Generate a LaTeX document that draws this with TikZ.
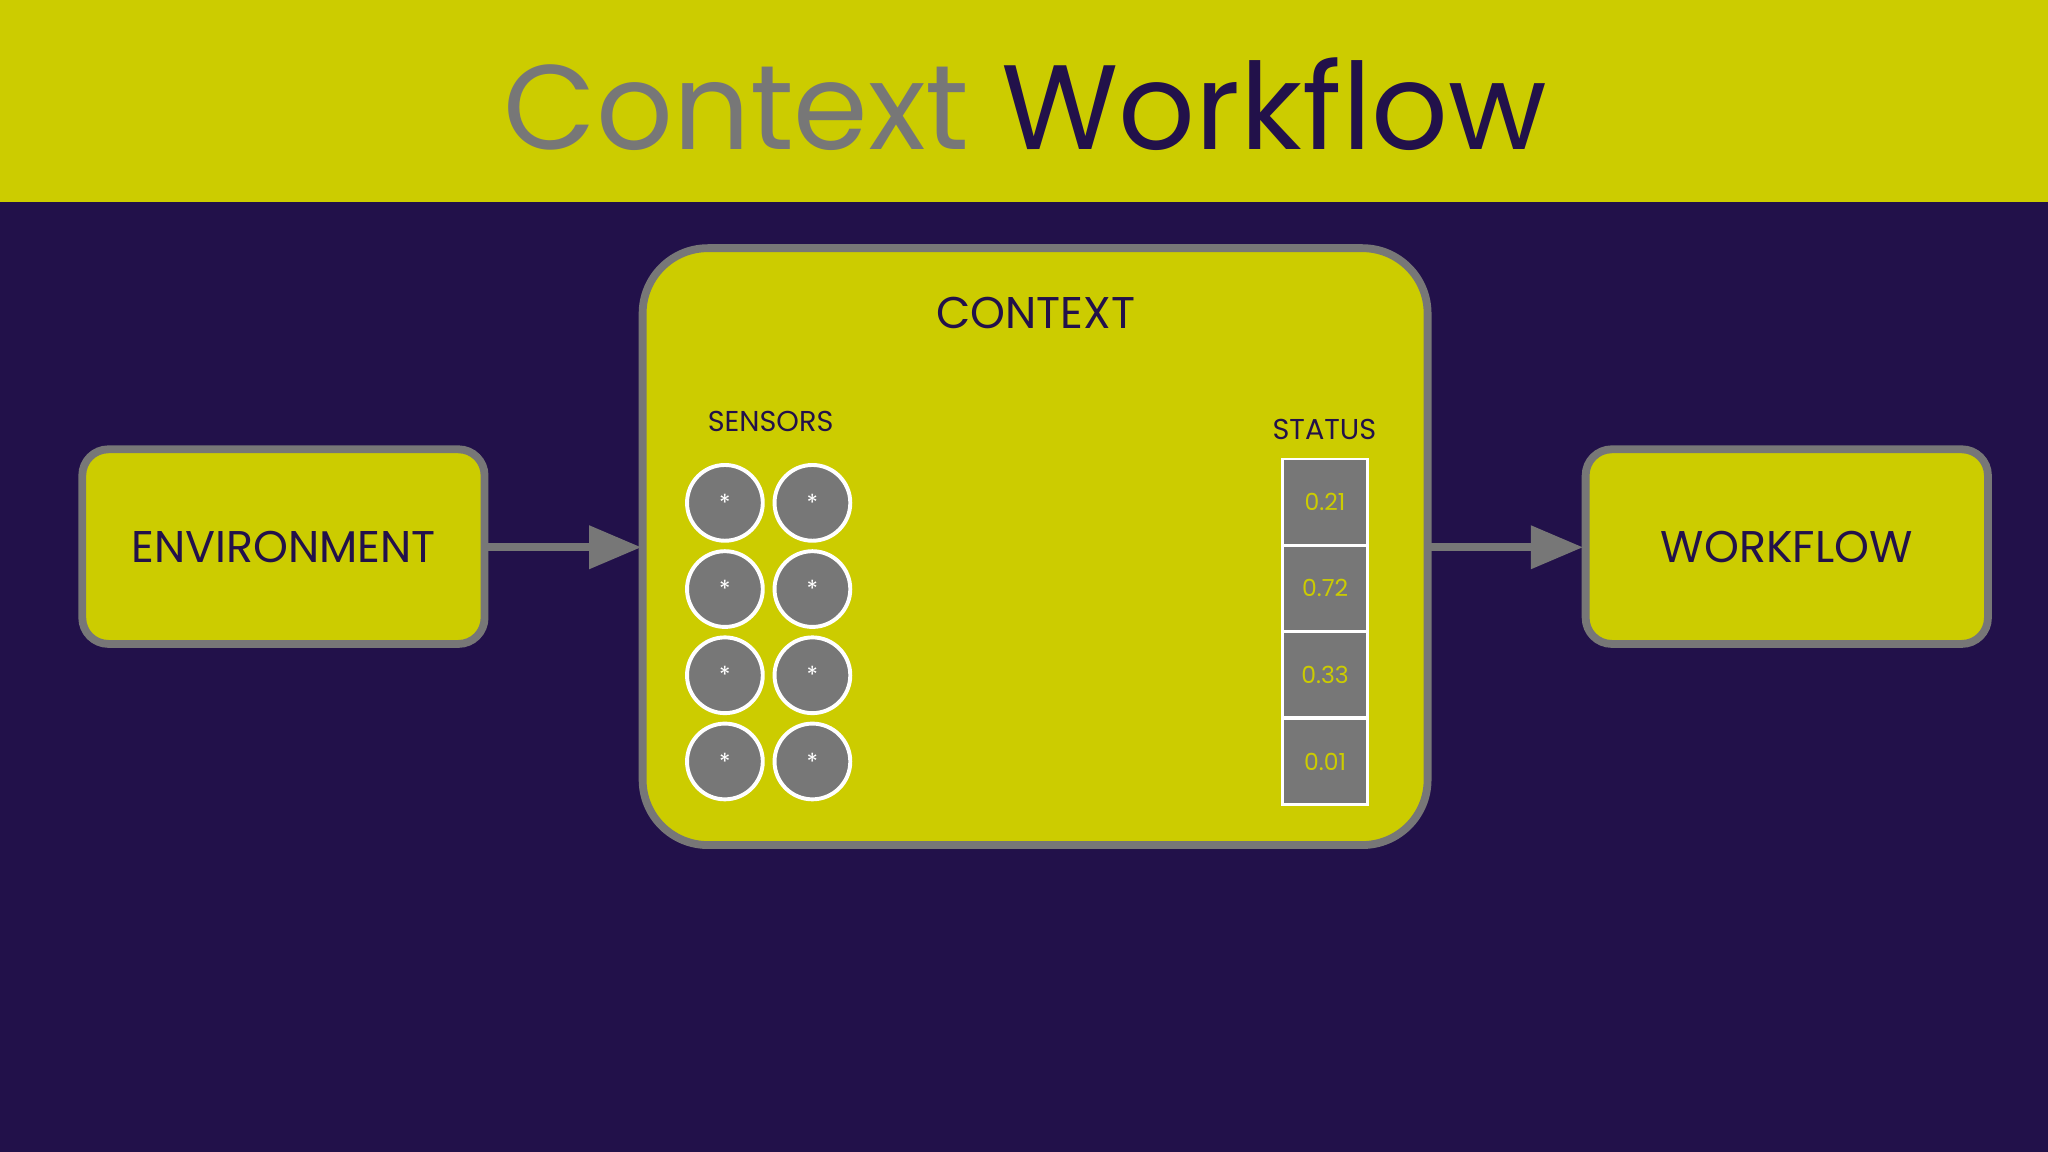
\documentclass[tikz,border=0pt]{standalone}
\usepackage{fontspec}
\setmainfont{Poppins}
\usetikzlibrary{arrows.meta}
\definecolor{ylw}{RGB}{204,204,0}
\definecolor{navy}{RGB}{34,17,74}
\definecolor{gry}{RGB}{119,119,119}
\begin{document}
\begin{tikzpicture}[x=0.5pt,y=-0.5pt,
  box/.style={draw=gry,line width=3pt,fill=ylw,rounded corners=10pt},
  lbl/.style={text=navy,font=\fontsize{17}{20}\selectfont},
  small/.style={text=navy,font=\fontsize{11}{13}\selectfont},
  sensor/.style={circle,draw=white,line width=1.5pt,fill=gry,minimum size=29pt,inner sep=0pt,text=white,font=\fontsize{9}{9}\selectfont},
  cell/.style={draw=white,line width=1pt,fill=gry,minimum width=32.5pt,minimum height=33pt,inner sep=0pt,text=ylw,font=\fontsize{9}{10}\selectfont},
  conn/.style={draw=gry,line width=3pt,-{Triangle[length=20pt,width=16pt]}}]
\fill[navy] (0,0) rectangle (1568,882);
\fill[ylw] (0,0) rectangle (1568,155);
\node (title) at (785,80) {\fontsize{46}{50}\selectfont\textcolor{gry}{Context} \textcolor{navy}{Workflow}};
\draw[box] (63,344) rectangle (371,493);
\node[lbl] (env) at (217,419) {ENVIRONMENT};
\coordinate (envR) at (373,419);
\draw[box,rounded corners=25pt] (492,190) rectangle (1093,647);
\coordinate (ctxL) at (491,419);
\coordinate (ctxR) at (1095,419);
\node[lbl] (ctx) at (793,240) {CONTEXT};
\node[small] (sens) at (590,323) {SENSORS};
\node[small] (stat) at (1014,329) {STATUS};
\foreach \r/\y in {1/385,2/451,3/517,4/583}{
  \node[sensor] (s\r a) at (555,\y) {*};
  \node[sensor] (s\r b) at (622,\y) {*};
}
\node[cell] (c1) at (1014.5,384.5) {0.21};
\node[cell] (c2) at (1014.5,450.5) {0.72};
\node[cell] (c3) at (1014.5,516.5) {0.33};
\node[cell] (c4) at (1014.5,583) {0.01};
\draw[box] (1214,344) rectangle (1522,493);
\node[lbl] (wf) at (1368,419) {WORKFLOW};
\coordinate (wfL) at (1212,419);
\draw[conn] (envR) -- (ctxL);
\draw[conn] (ctxR) -- (wfL);
\end{tikzpicture}
\end{document}
